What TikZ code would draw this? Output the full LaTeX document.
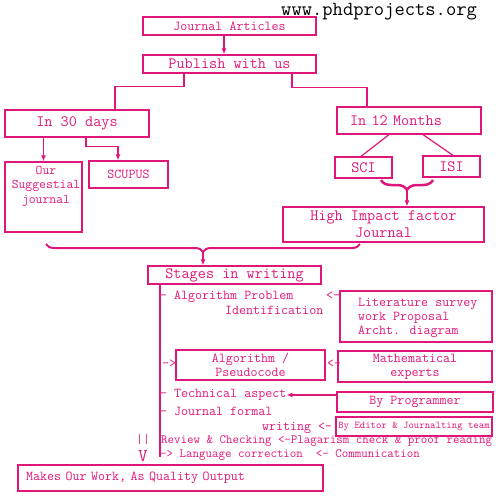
\documentclass[tikz,border=0pt]{standalone}
\usepackage{fontspec}
\usetikzlibrary{positioning, arrows.meta, calc, decorations.pathreplacing}
\definecolor{colLine}{HTML}{E0177A}
\definecolor{colText}{HTML}{E0177A}

\begin{document}
\begin{tikzpicture}[
				x=1pt, y=-1pt, % pixel grid, y downwards
				font=\ttfamily\fontsize{13.6}{14}\selectfont,
				% Node Styles
				base/.style={text=colText, align=center},
				box/.style={base, draw=colLine, line width=1.2pt, inner sep=0pt},
				txt/.style={base, inner sep=0pt, anchor=west, text height=1.5ex, text depth=.25ex},
				big/.style={font=\ttfamily\fontsize{15.8}{17}\selectfont},
				link/.style={colLine, line width=1.2pt},
				arrow/.style={link, -{Latex[length=6pt, width=5pt]}},
				curly/.style={colLine, decorate, decoration={brace, mirror, amplitude=#1}}
				]
				\useasboundingbox (0,0) rectangle (500,500);
				
				%% ================= TOP: PUBLISHING =================
				\node[font=\ttfamily\fontsize{20}{21}\selectfont, inner sep=0pt, anchor=west] (site) at (281,12) {www.phdprojects.org};
				\node[box, minimum width=173, minimum height=18] (ja) at (229.5,26) {Journal Articles};
				\node[box, big, minimum width=173, minimum height=18] (pub) at (229.5,64) {Publish with us};
				
				\node[box, big, minimum width=144, minimum height=27] (d30) at (77,123.5) {In 30 days};
				\node[box, big, minimum height=27, text width=118, inner xsep=13, align=left] (m12) at (409,120.5) {In 12 Months};
				
				% Branches
				\node[box, minimum width=77, minimum height=70] (ours) at (43.5,197) {};
				\node[base, inner sep=0pt, font=\ttfamily\fontsize{13.3}{14.5}\selectfont] (ourst) at (46,186) {Our\\Suggestial\\journal};
				\node[box, minimum width=79, minimum height=27] (scu) at (128.5,174.5) {SCUPUS};
				\node[box, big, minimum width=57, minimum height=21] (sci) at (363.5,167.5) {SCI};
				\node[box, big, minimum width=57, minimum height=21] (isi) at (451.5,166.5) {ISI};
				\node[box, big, minimum width=201, minimum height=35] (hif) at (383.5,224.5) {High Impact factor\\Journal};
				
				% Edges Top
				\draw[arrow] ([xshift=-5.5]ja.south) -- ([xshift=-5.5]pub.north);
				\draw[link] ([xshift=-45.5]pub.south) -- ++(0,13) -| ([xshift=38]d30.north);
				\draw[link] ([xshift=62.5]pub.south) -- ++(0,14) -| ([xshift=-42]m12.north);
				\draw[arrow] (d30.south -| ours.north) -- (ours.north);
				\draw[arrow] ([xshift=9]d30.south) -- ++(0,9) -| ([xshift=-10.5]scu.north);
				\draw[link] ([xshift=-20]m12.south) -- ([xshift=-2.5]sci.north);
				\draw[link] ([xshift=14]m12.south) -- ([xshift=1.5]isi.north);
				
				% Braces
				\coordinate (sbl) at (381,180);
				\coordinate (sbr) at (433,180);
				\coordinate (stip) at ($(sbl)!0.5!(sbr) + (0,10)$);
				\draw[curly=10, line width=2.5pt] (sbl) -- (sbr);
				\draw[arrow] (stip) -- (hif.north -| stip);
				
				\coordinate (bbl) at (46,244);
				\coordinate (bbr) at (360,244);
				\coordinate (btip) at ($(bbl)!0.5!(bbr) + (0,8)$);
				\draw[curly=8, line width=2pt] (bbl) -- (bbr);
				
				%% ================= BOTTOM: STAGES =================
				\node[box, big, minimum width=173, minimum height=18] (stg) at (234.5,275) {Stages in writing};
				\draw[arrow] (btip) -- (stg.north -| btip);
				
				\node[txt] (aprob) at (160,297) {- Algorithm Problem};
				\node[txt] (ident) at (225,312) {Identification};
				\node[txt] (arrlit) at (326,297) {<-};
				\node[box, minimum width=152, minimum height=51] (lit) at (416,316.5) {};
				\node[base, inner sep=0pt, anchor=west, align=left] (litt) at (358,318) {Literature survey\\work Proposal\\Archt. diagram};
				
				\node[txt] (arralg) at (162,365) {->};
				\node[box, minimum width=149, minimum height=30] (alg) at (250.5,365) {Algorithm /\\Pseudocode};
				\node[txt] (arrmat) at (327,365) {<-};
				\node[box, minimum width=154, minimum height=31] (mat) at (415,366.5) {Mathematical\\experts};
				
				\node[txt] (tech) at (160,395) {- Technical aspect};
				\node[box, minimum width=156, minimum height=20] (prog) at (415,402) {By Programmer};
				\node[txt] (jform) at (160,413) {- Journal formal};
				\node[txt] (jwrite) at (262,428) {writing <-};
				\node[box, minimum width=156, minimum height=19, font=\ttfamily\fontsize{10.3}{11}\selectfont] (edit) at (414,426.5) {By Editor \& Journalting team};
				\node[txt, font=\ttfamily\fontsize{12.6}{13}\selectfont] (review) at (161,441) {Review \& Checking <-Plagarism check \& proof reading};
				\node[txt, font=\ttfamily\fontsize{12.6}{13}\selectfont] (lang) at (160,455) {-> Language correction\ \ <- Communication};
				
				\node[base, inner sep=0pt, font=\ttfamily\fontsize{13}{13}\selectfont] (eq) at (143,440) {||};
				\node[base, inner sep=0pt, font=\ttfamily\fontsize{18}{18}\selectfont] (vee) at (143,456) {V};
				
				\node[box, minimum height=26, text width=289, inner xsep=8, align=left] (out) at (170.5,478) {Makes Our Work, As Quality Output};
				
				% Edges Bottom
				\coordinate (stgend) at (160,457);
				\draw[link] (stg.south -| stgend) -- (stgend);
				\draw[arrow] (prog.west |- tech.east) -- (tech.east);
				
\end{tikzpicture}
\end{document}
